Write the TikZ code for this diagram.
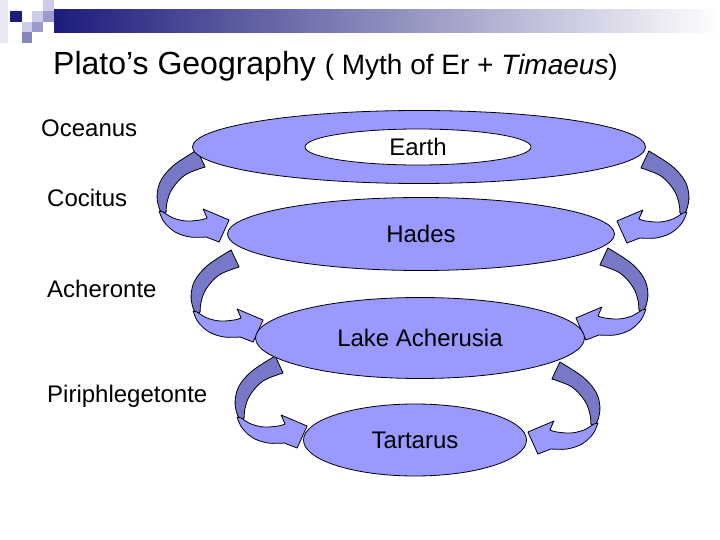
\documentclass[tikz,border=0pt]{standalone}
\usepackage{fontspec}
\setmainfont{Liberation Sans}
\usetikzlibrary{shapes.geometric,calc,backgrounds}

\definecolor{lake}{HTML}{9999FF}
\definecolor{shadow}{HTML}{7878C8}
\definecolor{navy}{HTML}{1C1C7C}
\definecolor{pale}{HTML}{CCCCEA}
\definecolor{mauve}{HTML}{9A9ACC}
\definecolor{dusk}{HTML}{8585BD}
\definecolor{mist}{HTML}{E8E8F4}

% river arrow: #1 tip, #2 = 1 (left side) or -1 (right side)
\newcommand{\riverarrow}[2]{%
  \begin{scope}[shift={#1}, xscale=#2]
    \filldraw[band back] plot[smooth, tension=0.6] coordinates {(-32,-70) (-55,-55) (-68,-40) (-72,-25) (-70,-12) (-66,-6)}
      -- plot[smooth, tension=0.6] coordinates {(-63,-8) (-62,-18) (-57,-31) (-44,-45) (-24,-53)} -- cycle;
    \filldraw[band front] plot[smooth, tension=0.6] coordinates {(-70,-9) (-65,2) (-54,12) (-39,17) (-23,17)}
      -- (-10,22) -- (0,0) -- (-26,-11)
      -- plot[smooth, tension=0.6] coordinates {(-22,-2) (-29,0) (-43,1) (-56,-2) (-66,-8)} -- cycle;
  \end{scope}}

\begin{document}
\begin{tikzpicture}
  [x=1pt, y=-1pt,
  every node/.style={inner sep=0pt},
  rivername/.style={anchor=base west, font=\fontsize{24}{28}\selectfont},
  layer/.style={ellipse, draw=black, fill=lake, line width=0.8pt, font=\fontsize{24}{28}\selectfont},
  band back/.style={draw=black, fill=shadow, line width=0.8pt, line join=round},
  band front/.style={draw=black, fill=lake, line width=0.8pt, line join=round},
  ]
  \useasboundingbox (0,0) rectangle (720,540);
  % header
  \fill[mist] (0,0) rectangle (8,43);
  \fill[pale] (43,0) rectangle (54,11);
  \fill[navy] (10,11) rectangle (22,22);
  \fill[pale] (32,11) rectangle (43,22);
  \fill[mauve] (43,11) rectangle (54,22);
  \fill[pale] (22,22) rectangle (32,32);
  \fill[mauve] (32,22) rectangle (43,32);
  \fill[dusk] (22,32) rectangle (32,43);
  \shade[left color=navy, right color=white] (54,10) rectangle (720,33);

  \node[anchor=base west] (title) at (53,75)
    {\fontsize{32}{38}\selectfont Plato’s Geography {\fontsize{28}{34}\selectfont ( Myth of Er + \textit{Timaeus})}};

  % the layers
  \node[layer, minimum width=453pt, minimum height=73pt] (oceanus) at (419,147) {};
  \node[layer, fill=white, minimum width=226pt, minimum height=36pt] (earth) at (418,147) {Earth};
  \node[layer, minimum width=387pt, minimum height=73pt] (hades) at (421,234) {Hades};
  \node[layer, minimum width=329pt, minimum height=81pt] (lake) at (420,338) {Lake Acherusia};
  \node[layer, minimum width=223pt, minimum height=72pt] (tartarus) at (415,440) {Tartarus};

  % the rivers
  \node[rivername] (oceanus name) at (41,137) {Oceanus};
  \node[rivername] (cocitus) at (47,207) {Cocitus};
  \node[rivername] (acheronte) at (47,297) {Acheronte};
  \node[rivername] (piriphlegetonte) at (47,402) {Piriphlegetonte};

  \begin{pgfonlayer}{background}
    \riverarrow{($(hades.west)+(2,-14)$)}{1}
    \riverarrow{($(hades.east)+(2,-13)$)}{-1}
    \riverarrow{($(lake.west)+(8,-18)$)}{1}
    \riverarrow{($(lake.east)+(-9,-20)$)}{-1}
    \riverarrow{($(tartarus.west)+(4,-14)$)}{1}
    \riverarrow{($(tartarus.east)+(1,-8)$)}{-1}
  \end{pgfonlayer}
\end{tikzpicture}
\end{document}
